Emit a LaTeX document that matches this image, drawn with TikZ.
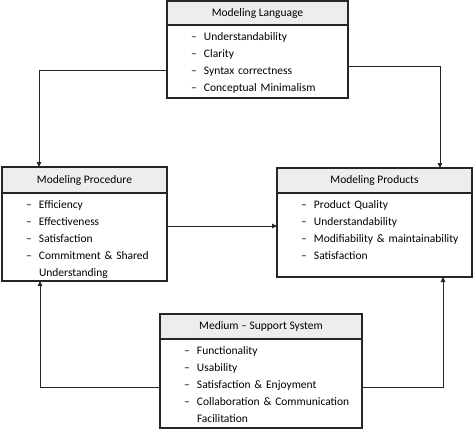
\documentclass[tikz,border=0pt]{standalone}
\usepackage{fontspec}
\setmainfont{Carlito}
\usetikzlibrary{positioning,arrows.meta}
\newcommand{\itm}[1]{\hspace*{24pt}\makebox[13pt][l]{\textendash}#1}
\newcommand{\cont}[1]{\hspace*{37pt}#1}

\begin{document}
\begin{tikzpicture}[x=1pt, y=1pt,
    head/.style={draw=black!85, line width=1.5pt, fill=black!7, outer sep=0pt, inner sep=0pt,
      minimum width=#1, minimum height=25pt, anchor=north west, font=\fontsize{11.5}{17}\selectfont},
    body/.style={draw=black!85, line width=1.5pt, fill=white, outer sep=0pt, inner sep=0pt,
      text width=#1, align=left, text height=15pt, font=\fontsize{11.5}{17}\selectfont},
    link/.style={line width=1pt, black!85, -{Triangle[length=5pt,width=4.5pt]}}]
  \useasboundingbox (0,0) rectangle (474,-429);
  % modeling language
  \node (langhead) [head=181pt, minimum height=24pt] at (167,-1) {Modeling Language};
  \node (langbody) [body=181pt, text depth=58pt, below=0pt of langhead]
    {\itm{Understandability}\\ \itm{Clarity}\\ \itm{Syntax correctness}\\ \itm{Conceptual Minimalism}};
  % modeling procedure
  \node (prochead) [head=165pt, minimum height=26pt] at (2,-167) {Modeling Procedure};
  \node (procbody) [body=165pt, text depth=73pt, below=0pt of prochead]
    {\itm{Efficiency}\\ \itm{Effectiveness}\\ \itm{Satisfaction}\\ \itm{Commitment \& Shared}\\ \cont{Understanding}};
  % modeling products
  \node (prodhead) [head=195pt] at (277,-168) {Modeling Products};
  \node (prodbody) [body=195pt, text depth=69pt, below=0pt of prodhead]
    {\itm{Product Quality}\\ \itm{Understandability}\\ \itm{Modifiability \& maintainability}\\ \itm{Satisfaction}};
  % medium
  \node (medhead) [head=202pt] at (160,-314) {Medium \textendash{} Support System};
  \node (medbody) [body=202pt, text depth=74pt, below=0pt of medhead]
    {\itm{Functionality}\\ \itm{Usability}\\ \itm{Satisfaction \& Enjoyment}\\ \itm{Collaboration \& Communication}\\ \cont{Facilitation}};

  \draw[link] ([yshift=28pt]langbody.south west) -| ([xshift=37pt]prochead.north west);
  \draw[link] ([yshift=32pt]langbody.south east) -| ([xshift=-32pt]prodhead.north east);
  \draw[link] ([yshift=-33pt]procbody.north east) -- ([yshift=-33pt]prodbody.north west);
  \draw[link] ([yshift=-48pt]medbody.north west) -| ([xshift=38pt]procbody.south west);
  \draw[link] ([yshift=-48pt]medbody.north east) -| ([xshift=-29pt]prodbody.south east);
\end{tikzpicture}
\end{document}
